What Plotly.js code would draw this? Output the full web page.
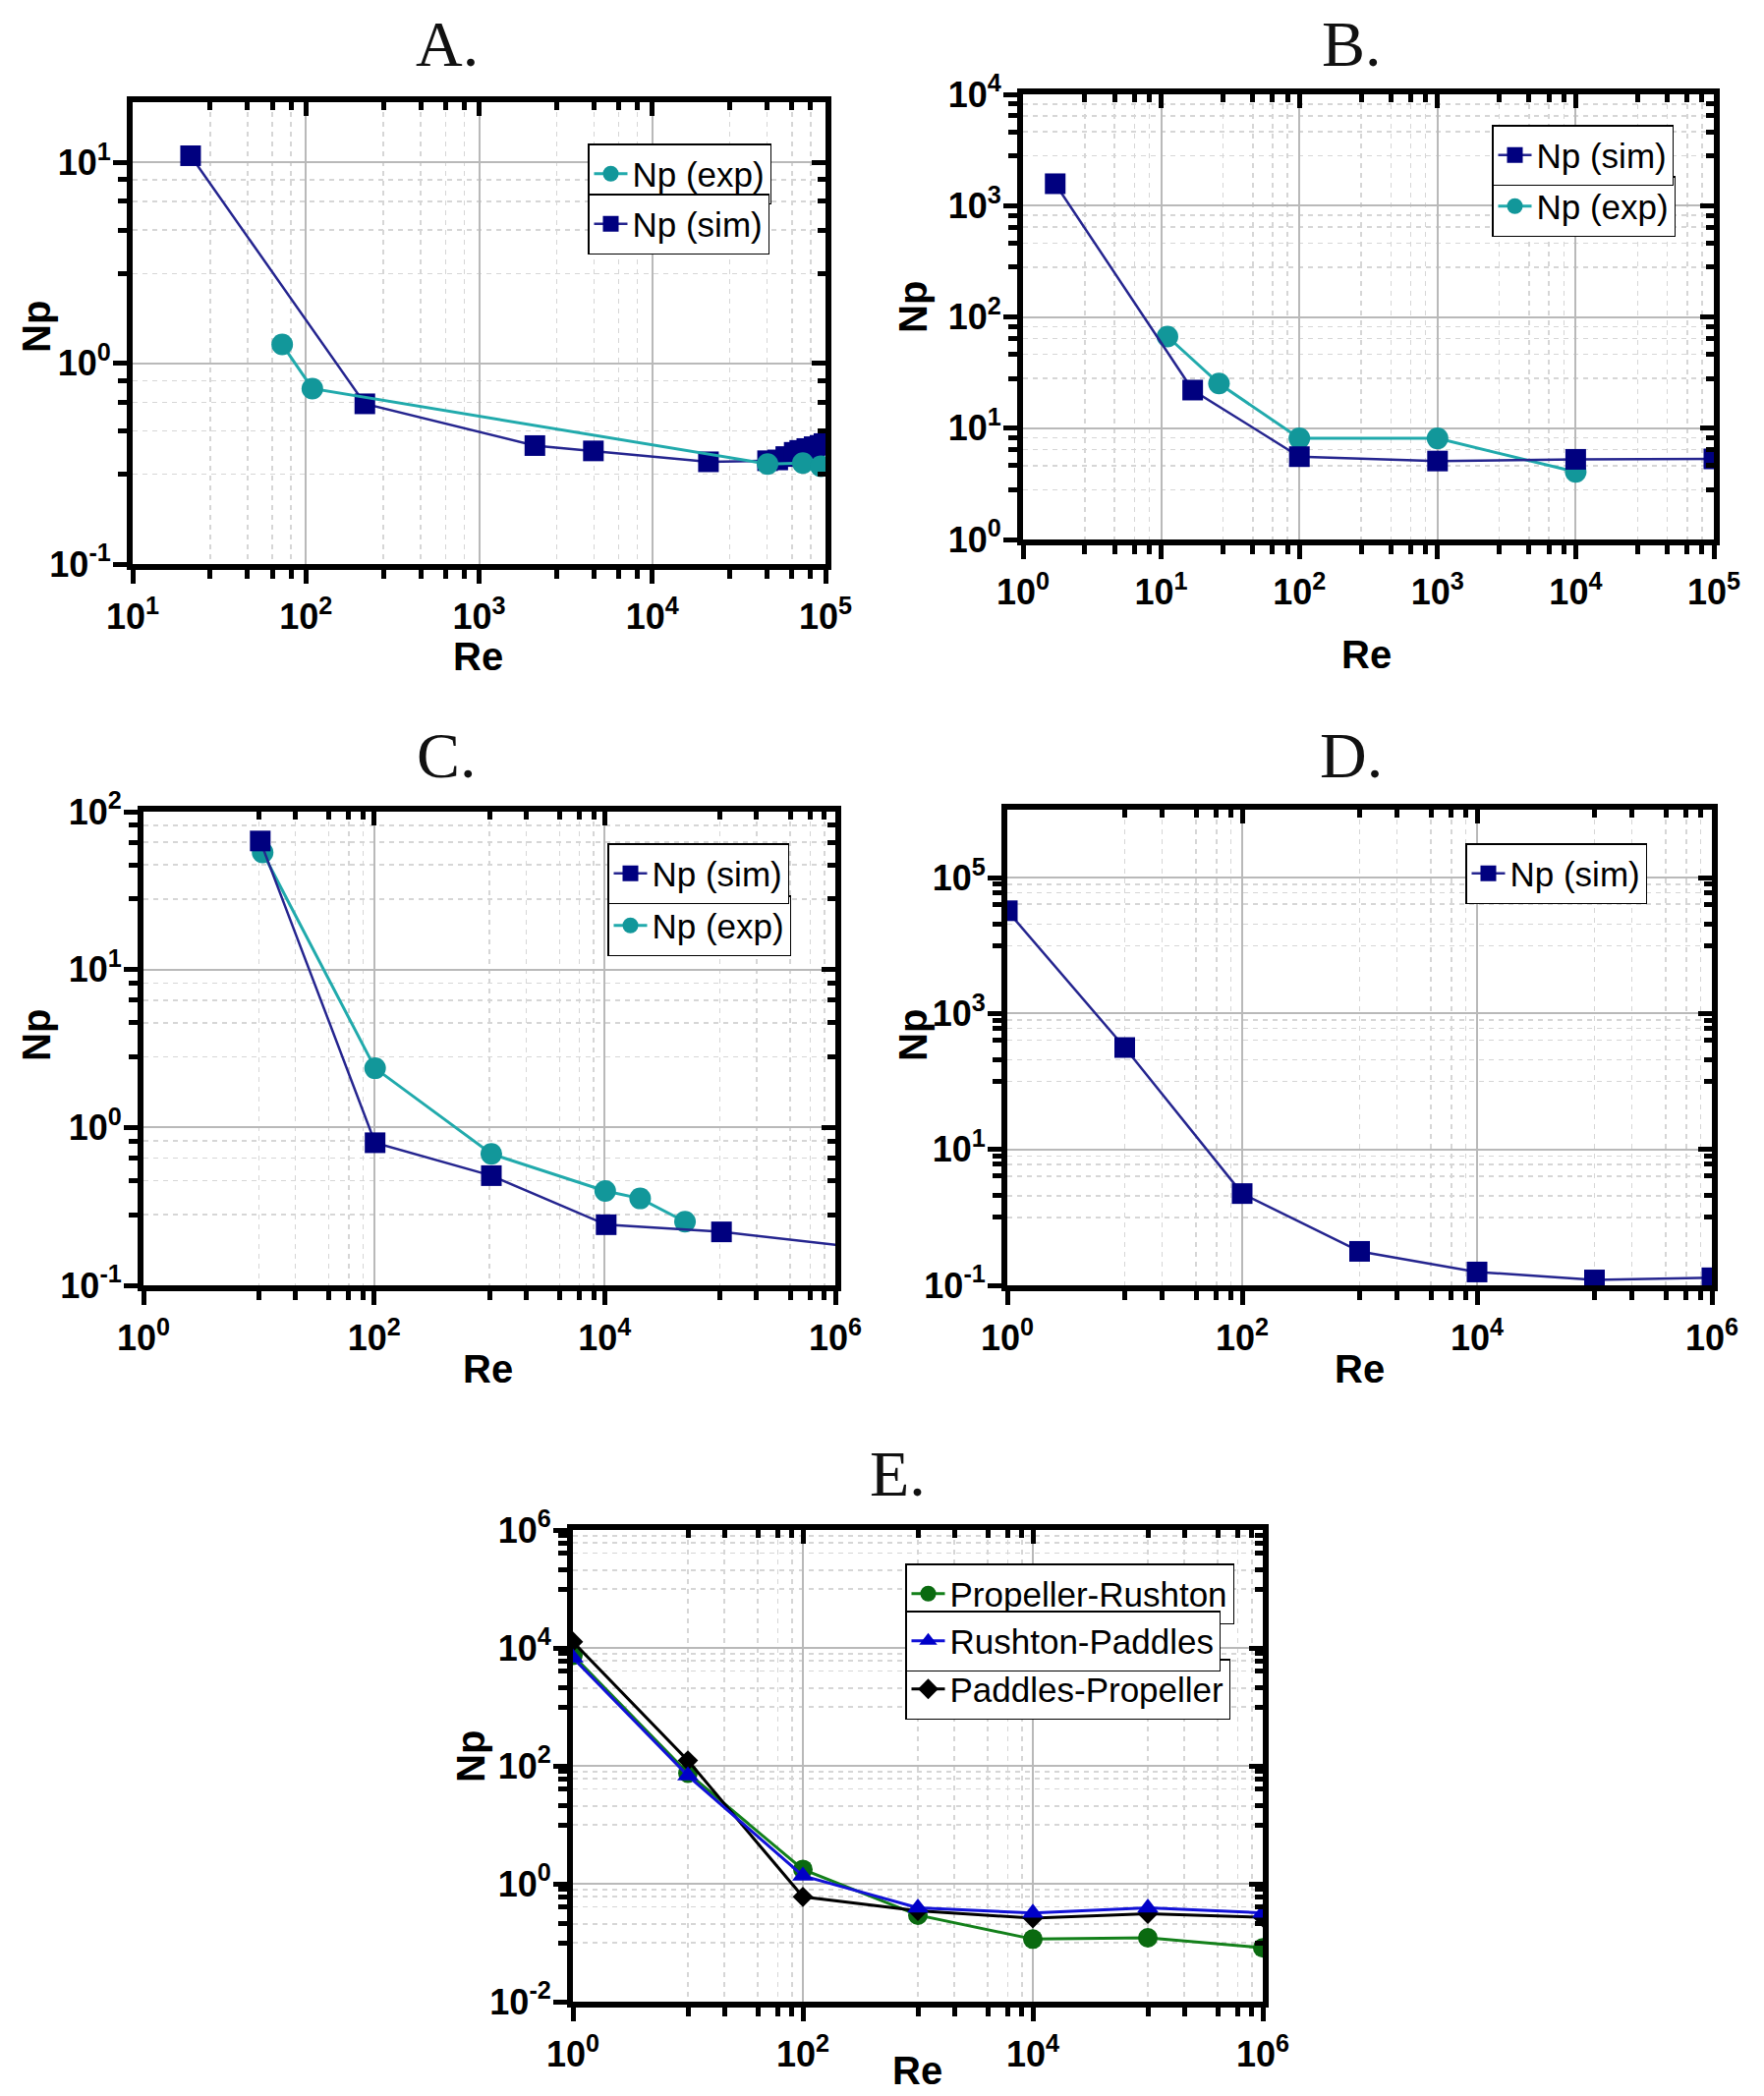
<!DOCTYPE html>
<html>
<head>
<meta charset="utf-8">
<script src="https://cdn.plot.ly/plotly-3.0.1.min.js"></script>
<style>
html, body { margin: 0; padding: 0; background: #fff; }
#chart { width: 1795px; height: 2133px; }
</style>
</head>
<body>
<div id="chart"></div>
<script>
// ---- Power number Np versus Reynolds number Re ----

// A.
const reA_exp = [73, 109, 46300, 74000, 94000];
const npA_exp = [1.24, 0.748, 0.315, 0.318, 0.307];
const reA_sim = [21.6, 219, 2100, 4570, 21100, 46300, 53000, 59000, 66000, 71000, 78000, 86000, 93000, 98000];
const npA_sim = [10.8, 0.628, 0.389, 0.366, 0.323, 0.327, 0.330, 0.343, 0.360, 0.368, 0.376, 0.384, 0.390, 0.398];

// B.
const reB_sim = [1.71, 16.9, 100, 1000, 10000, 100000];
const npB_sim = [1573, 22.0, 5.55, 5.07, 5.25, 5.3];
const reB_exp = [11.1, 26.2, 100, 1000, 10000];
const npB_exp = [66.6, 25.2, 8.1, 8.1, 4.04];

// C.
const reC_sim = [10.3, 102, 1040, 10300, 103000, 10000000];
const npC_sim = [65.2, 0.80, 0.495, 0.242, 0.218, 0.149];
const reC_exp = [10.8, 102, 1040, 10100, 20300, 49700];
const npC_exp = [55.2, 2.37, 0.68, 0.396, 0.355, 0.253];

// D.
const reD_sim = [1, 10, 100, 1000, 10000, 100000, 1000000];
const npD_sim = [32600, 316, 2.24, 0.316, 0.157, 0.12, 0.129];

// E.
const reE = [1, 10, 100, 1000, 10000, 100000, 1000000];
const npE_propRush = [7500, 75, 1.75, 0.294, 0.115, 0.121, 0.082];
const npE_rushPad  = [6800, 68, 1.36, 0.39, 0.32, 0.39, 0.32];
const npE_padProp  = [12700, 123, 0.60, 0.348, 0.261, 0.309, 0.27];

const W = 1795, H = 2133;
const SANS = 'Liberation Sans, Arial, sans-serif';
const SERIF = 'Liberation Serif, Times New Roman, serif';

// plot boxes in pixels: [left, top, right, bottom]; ranges in decades
const panels = [
  {title: 'A.', box: [135, 104, 840, 574],  xr: [1, 5], yr: [-1, 1.3], xs: 1, ys: 1, tx: 455, ty: 45,  rex: 486,  rey: 668,  npx: 37,  npy: 333},
  {title: 'B.', box: [1041, 96, 1744, 549], xr: [0, 5], yr: [0, 4],    xs: 1, ys: 1, tx: 1375, ty: 45, rex: 1390, rey: 666,  npx: 929, npy: 313},
  {title: 'C.', box: [146, 826, 850, 1308], xr: [0, 6], yr: [-1, 2],   xs: 2, ys: 1, tx: 454, ty: 768, rex: 496,  rey: 1393, npx: 37,  npy: 1054},
  {title: 'D.', box: [1025, 824, 1742, 1308], xr: [0, 6], yr: [-1, 6], xs: 2, ys: 2, tx: 1375, ty: 768, rex: 1383, rey: 1393, npx: 929, npy: 1054},
  {title: 'E.', box: [583, 1557, 1285, 2037], xr: [0, 6], yr: [-2, 6], xs: 2, ys: 2, tx: 914, ty: 1499, rex: 933, rey: 2107, npx: 479, npy: 1788}
];

function powLabel(k) { return '10<sup>' + (k < 0 ? '-' : '') + Math.abs(k) + '</sup>'; }

function majors(r, step) {
  const vals = [], text = [];
  for (let k = Math.ceil(r[0] - 1e-9); k <= r[1] + 1e-9; k += step) {
    vals.push(Math.pow(10, k)); text.push(powLabel(k));
  }
  return {vals, text};
}

// minor ticks: linear subdivisions of each major interval
function minors(r, step) {
  const out = [];
  const lo = Math.ceil(r[0] - 1e-9);
  for (let k = lo - step; k <= r[1] + step; k += step) {
    const a = Math.pow(10, k), b = Math.pow(10, k + step);
    for (let j = 1; j <= 4; j++) out.push(a + (b - a) * j / 5);
    if (step === 2) out.push(Math.pow(10, k + 1));
  }
  return out.filter(v => Math.log10(v) > r[0] && Math.log10(v) < r[1]);
}

const tickFont = {family: SANS, size: 36, color: '#000', weight: 'bold'};
const titleFont = {family: SANS, size: 40, color: '#000', weight: 'bold'};

const layout = {
  width: W, height: H,
  margin: {l: 0, r: 0, t: 0, b: 0},
  paper_bgcolor: '#fff', plot_bgcolor: '#fff',
  showlegend: true,
  annotations: []
};

panels.forEach((p, i) => {
  const n = i + 1, m = i + 6;
  const sx = n === 1 ? '' : String(n);
  const xd = [p.box[0] / W, p.box[2] / W];
  const yd = [1 - p.box[3] / H, 1 - p.box[1] / H];
  const xm = majors(p.xr, p.xs), ym = majors(p.yr, p.ys);
  const common = {
    type: 'log', showline: true, linecolor: '#000', linewidth: 6,
    zeroline: false, fixedrange: true
  };
  layout['xaxis' + sx] = Object.assign({}, common, {
    domain: xd, range: p.xr, anchor: 'y' + sx,
    tickmode: 'array', tickvals: xm.vals, ticktext: xm.text,
    ticks: 'outside', ticklen: 14, tickwidth: 5, tickcolor: '#000',
    tickfont: tickFont, ticklabelstandoff: 3,
    showgrid: true, gridcolor: '#b9b9b9', gridwidth: 2,
    minor: {tickmode: 'array', tickvals: minors(p.xr, p.xs), ticks: 'outside', ticklen: 9, tickwidth: 5, tickcolor: '#000',
            showgrid: true, gridcolor: '#d6d6d6', gridwidth: 1.5, griddash: '5px,5px'}
  });
  layout['yaxis' + sx] = Object.assign({}, common, {
    domain: yd, range: p.yr, anchor: 'x' + sx,
    tickmode: 'array', tickvals: ym.vals, ticktext: ym.text,
    ticks: 'outside', ticklen: 14, tickwidth: 5, tickcolor: '#000',
    tickfont: tickFont, ticklabelstandoff: -5,
    showgrid: true, gridcolor: '#b9b9b9', gridwidth: 2,
    minor: {tickmode: 'array', tickvals: minors(p.yr, p.ys), ticks: 'outside', ticklen: 9, tickwidth: 5, tickcolor: '#000',
            showgrid: true, gridcolor: '#d6d6d6', gridwidth: 1.5, griddash: '5px,5px'}
  });
  // top and right frame with inward ticks
  layout['xaxis' + m] = Object.assign({}, common, {
    overlaying: 'x' + sx, side: 'top', anchor: 'y' + m, range: p.xr,
    tickmode: 'array', tickvals: xm.vals, showticklabels: false,
    ticks: 'inside', ticklen: 14, tickwidth: 5, tickcolor: '#000', showgrid: false,
    minor: {tickmode: 'array', tickvals: minors(p.xr, p.xs), ticks: 'inside', ticklen: 8, tickwidth: 5, tickcolor: '#000', showgrid: false}
  });
  layout['yaxis' + m] = Object.assign({}, common, {
    overlaying: 'y' + sx, side: 'right', anchor: 'x' + m, range: p.yr,
    tickmode: 'array', tickvals: ym.vals, showticklabels: false,
    ticks: 'inside', ticklen: 14, tickwidth: 5, tickcolor: '#000', showgrid: false,
    minor: {tickmode: 'array', tickvals: minors(p.yr, p.ys), ticks: 'inside', ticklen: 8, tickwidth: 5, tickcolor: '#000', showgrid: false}
  });

  layout.annotations.push(
    {text: p.title, x: p.tx / W, y: 1 - p.ty / H, xref: 'paper', yref: 'paper', showarrow: false,
     xanchor: 'center', yanchor: 'middle', font: {family: SERIF, size: 66, color: '#111'}},
    {text: 'Re', x: p.rex / W, y: 1 - p.rey / H, xref: 'paper', yref: 'paper', showarrow: false,
     xanchor: 'center', yanchor: 'middle', font: titleFont},
    {text: 'Np', x: p.npx / W, y: 1 - p.npy / H, xref: 'paper', yref: 'paper', showarrow: false, textangle: -90,
     xanchor: 'center', yanchor: 'middle', font: titleFont}
  );
});

// one boxed legend per entry
const legendSpots = {
  legend:   [598, 146],  legend2:  [598, 197],
  legend3:  [1518, 127], legend4:  [1518, 179],
  legend5:  [618, 858],  legend6:  [618, 911],
  legend7:  [1491, 858],
  legend8:  [921, 1591], legend9:  [921, 1639], legend10: [921, 1688]
};
Object.keys(legendSpots).forEach(k => {
  const [x, y] = legendSpots[k];
  layout[k] = {
    x: x / W, y: 1 - y / H, xanchor: 'left', yanchor: 'top', xref: 'paper', yref: 'paper',
    bgcolor: '#fff', bordercolor: '#000', borderwidth: 1.5,
    font: {family: SANS, size: 35, color: '#000'}, itemwidth: 34, tracegroupgap: 0
  };
});

const SIM = {line: {color: '#25258f', width: 2.5}, marker: {symbol: 'square', size: 21, color: '#00007f'}};
const EXP = {line: {color: '#21aaac', width: 3}, marker: {symbol: 'circle', size: 22, color: '#12979a'}};

function tr(x, y, name, ax, leg, sty) {
  return Object.assign({type: 'scatter', mode: 'lines+markers', x: x, y: y, name: name,
    xaxis: 'x' + ax, yaxis: 'y' + ax, legend: leg, hoverinfo: 'x+y+name'}, JSON.parse(JSON.stringify(sty)));
}

const traces = [
  tr(reA_sim, npA_sim, 'Np (sim)', '', 'legend2', SIM),
  tr(reA_exp, npA_exp, 'Np (exp)', '', 'legend', EXP),
  tr(reB_exp, npB_exp, 'Np (exp)', '2', 'legend4', EXP),
  tr(reB_sim, npB_sim, 'Np (sim)', '2', 'legend3', SIM),
  tr(reC_exp, npC_exp, 'Np (exp)', '3', 'legend6', EXP),
  tr(reC_sim, npC_sim, 'Np (sim)', '3', 'legend5', SIM),
  tr(reD_sim, npD_sim, 'Np (sim)', '4', 'legend7', SIM),
  tr(reE, npE_propRush, 'Propeller-Rushton', '5', 'legend8',
     {line: {color: '#13801a', width: 3}, marker: {symbol: 'circle', size: 20, color: '#0a6a10'}}),
  tr(reE, npE_padProp, 'Paddles-Propeller', '5', 'legend10',
     {line: {color: '#000', width: 3}, marker: {symbol: 'diamond', size: 16, color: '#000'}}),
  tr(reE, npE_rushPad, 'Rushton-Paddles', '5', 'legend9',
     {line: {color: '#1212d8', width: 3}, marker: {symbol: 'triangle-up', size: 19, color: '#0000c8'}})
];

// empty traces that bring up the top/right frame axes
for (let m = 6; m <= 10; m++) {
  traces.push({type: 'scatter', x: [], y: [], xaxis: 'x' + m, yaxis: 'y' + m, showlegend: false, hoverinfo: 'skip'});
}

Plotly.newPlot('chart', traces, layout, {staticPlot: true, displayModeBar: false});
</script>
</body>
</html>
